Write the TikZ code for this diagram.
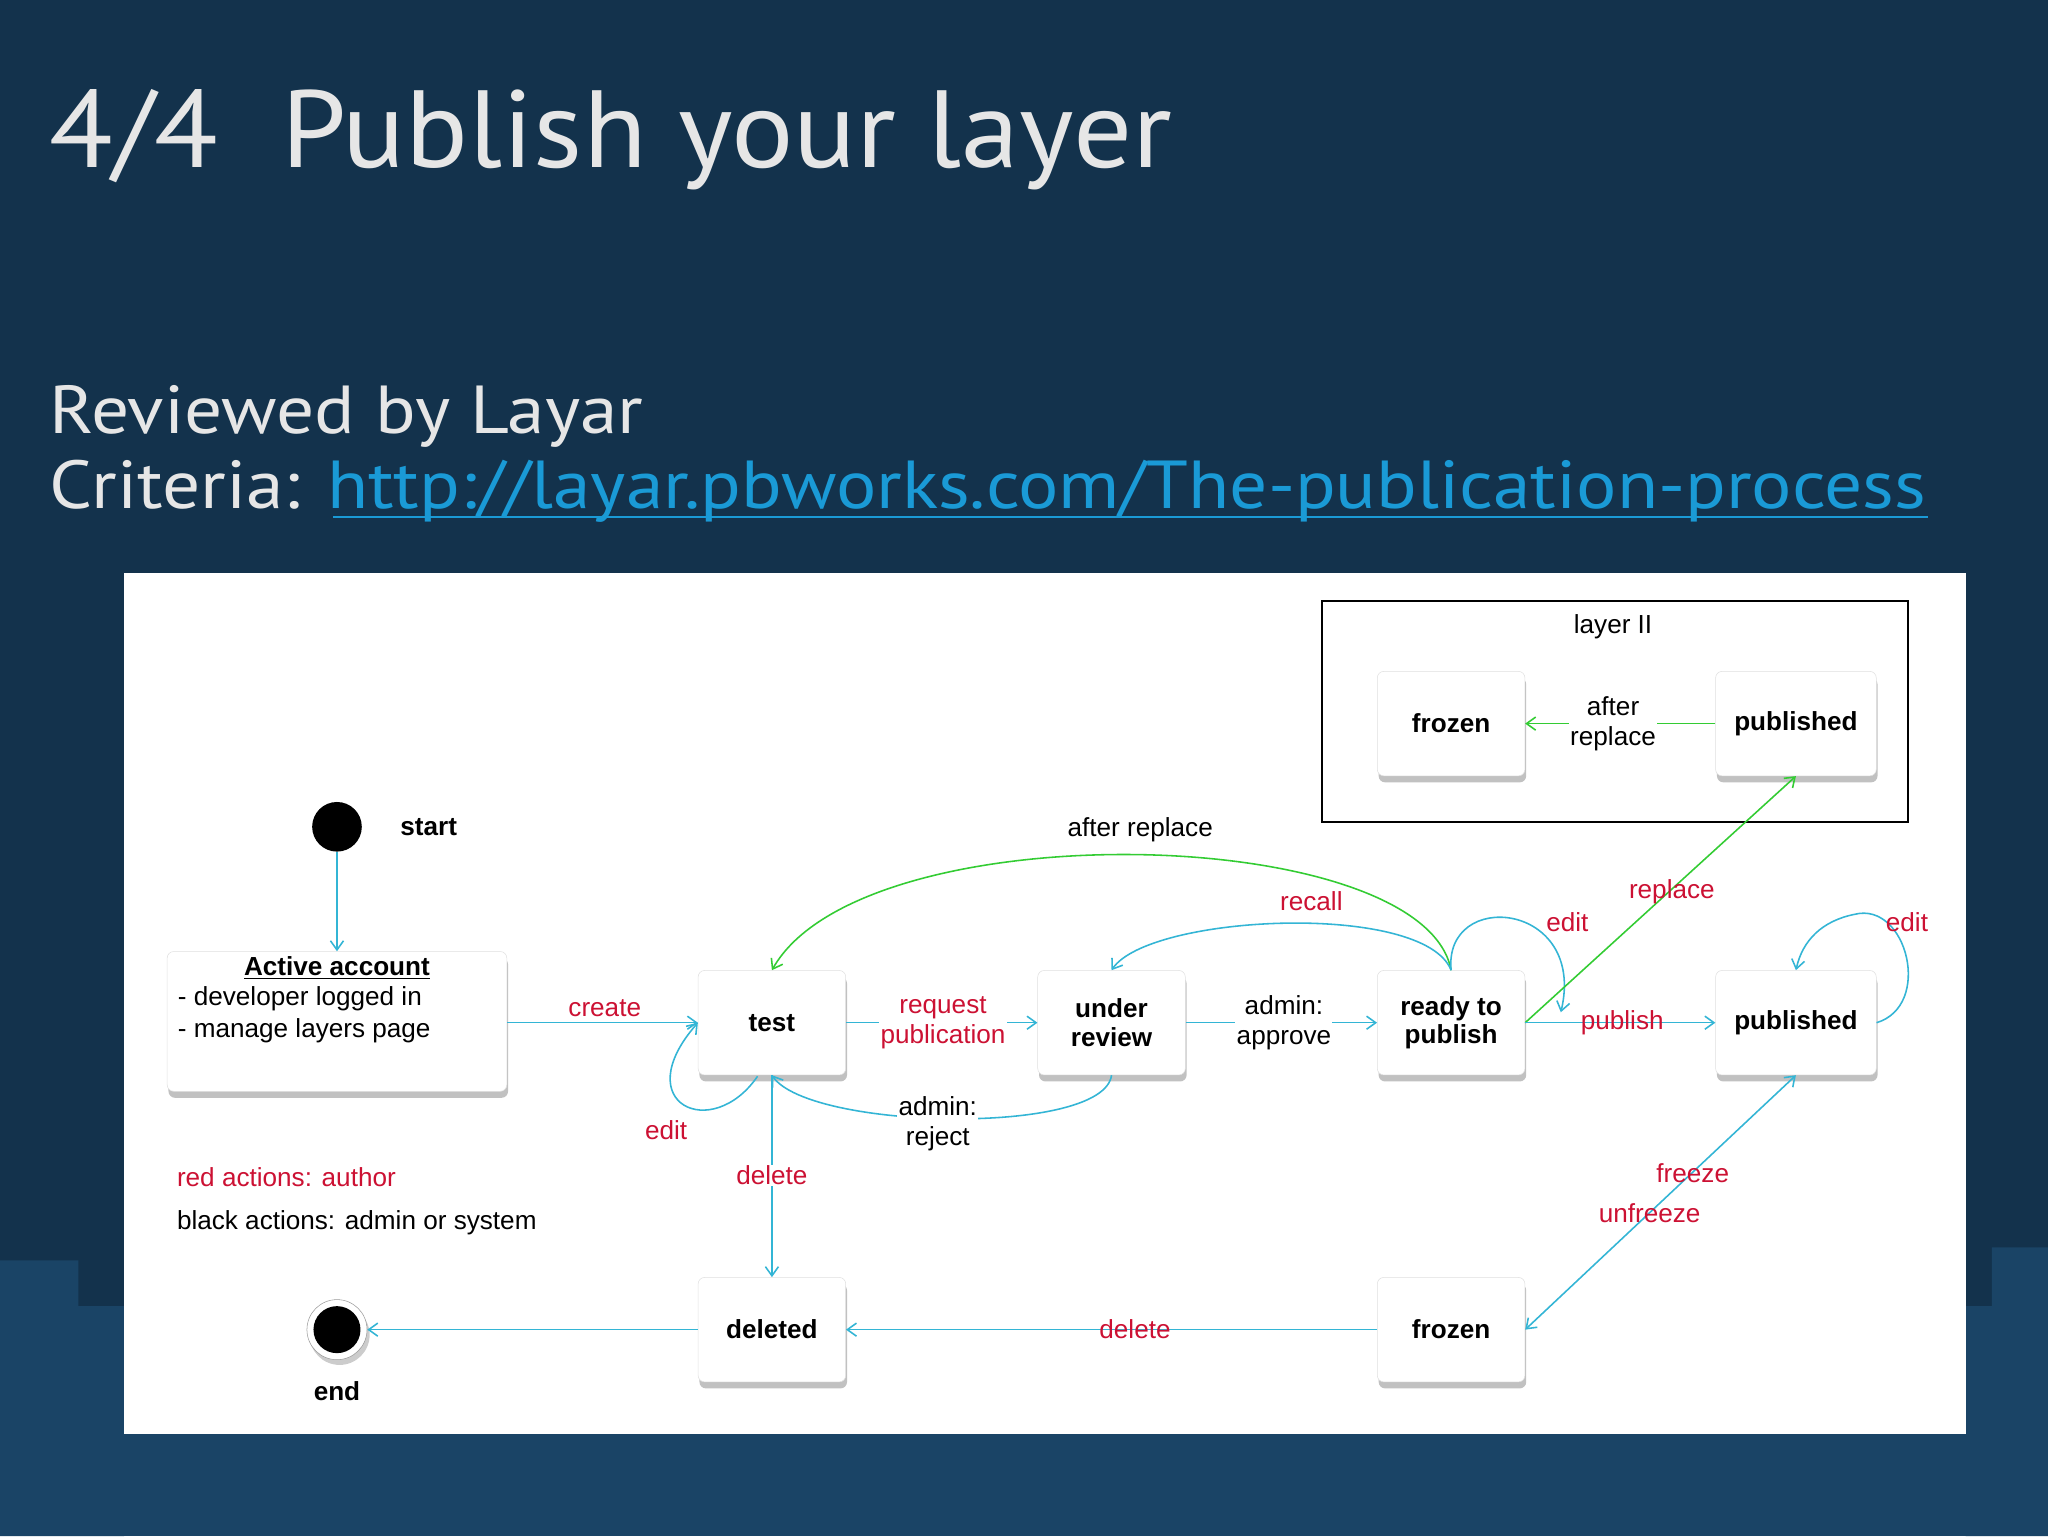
\documentclass[tikz,border=0pt]{standalone}
\usepackage{fontspec}
\setmainfont{Liberation Sans}
\newfontfamily\slidefont{PT Sans}
\usetikzlibrary{shadows,arrows.meta}
\definecolor{bg}{HTML}{13324C}
\definecolor{bgb}{HTML}{1A4466}
\definecolor{cy}{HTML}{33B5D5}
\definecolor{gr}{HTML}{33CC33}
\definecolor{rd}{HTML}{CC1133}
\definecolor{lk}{HTML}{1A9AD6}
\definecolor{tx}{HTML}{E6E6E6}
\begin{document}
\begin{tikzpicture}[x=1pt,y=-1pt,
  st/.style={draw=black!12,fill=white,rounded corners=5pt,minimum width=113pt,minimum height=80pt,align=center,font=\fontsize{20}{22}\selectfont\bfseries,
    drop shadow={shadow xshift=1pt,shadow yshift=-5pt,opacity=0.4,fill=black!60}},
  ca/.style={draw=cy,line width=1.2pt,-{Straight Barb[length=7pt,width=10pt]}},
  ga/.style={draw=gr,line width=1.2pt,-{Straight Barb[length=7pt,width=10pt]}},
  rl/.style={text=rd,font=\fontsize{20}{23}\selectfont,align=center},
  bl/.style={text=black,font=\fontsize{20}{23}\selectfont,align=center}]
\useasboundingbox (0,0) rectangle (1568,1176);
\fill[bg] (0,0) rectangle (1568,1176);
\fill[bgb] (0,1000) -- (0,965) -- (60,965) -- (60,1000) -- (95,1000) -- (95,1176) -- (0,1176) -- cycle;
\fill[bgb] (0,1098) rectangle (1568,1176);
\fill[bgb] (1505,1000) -- (1525,1000) -- (1525,955) -- (1568,955) -- (1568,1176) -- (1505,1176) -- cycle;
\node[anchor=base west,text=tx,font=\slidefont\fontsize{84}{90}\selectfont,inner sep=0] (title) at (38,128) {\scalebox{1.065}[1]{4/4\ \ Publish your layer}};
\node[anchor=base west,text=tx,font=\slidefont\fontsize{52}{56}\selectfont,inner sep=0] (sub) at (38,332) {\scalebox{1.11}[1]{Reviewed by Layar}};
\node[anchor=base west,text=tx,font=\slidefont\fontsize{52}{56}\selectfont,inner sep=0] (crit) at (38,389) {\scalebox{1.11}[1]{Criteria: \textcolor{lk}{http://layar.pbworks.com/The-publication-process}}};
\draw[lk,line width=1.5pt] (255,396) -- (1476,396);
\fill[white] (95,439) rectangle (1505,1098);
\draw[black,line width=1.5pt] (1012,460) rectangle (1461,629);
\node[bl] (l2) at (1235,480) {layer II};
\node[st] (fz2) at (1111,554) {frozen};
\node[st,minimum width=123pt] (pb2) at (1375,554) {published};
\node[fill=black,circle,minimum size=38pt,inner sep=0] (start) at (258,633) {};
\node[font=\fontsize{20}{22}\selectfont\bfseries,anchor=west] (startl) at (303,633) {start};
\node[st,minimum width=260pt,minimum height=107pt] (acc) at (258,782) {};
\node[font=\fontsize{20}{22}\selectfont\bfseries] (acct) at (258,741) {\underline{Active account}};
\node[font=\fontsize{20}{25}\selectfont,align=left,anchor=north west,inner sep=0] (accl) at (136,755) {- developer logged in\\- manage layers page};
\node[st] (test) at (591,783) {test};
\node[st] (ur) at (851,783) {under\\review};
\node[st] (rp) at (1111,783) {ready to\\publish};
\node[st,minimum width=123pt] (pb) at (1375,783) {published};
\node[st] (del) at (591,1018) {deleted};
\node[st] (fz) at (1111,1018) {frozen};
\node[fill=white,draw=black!40,circle,minimum size=46pt,inner sep=0,drop shadow={shadow xshift=2pt,shadow yshift=-4pt,opacity=0.4}] (end) at (258,1018) {};
\node[fill=black,circle,minimum size=36pt,inner sep=0] (endi) at (258,1018) {};
\node[font=\fontsize{20}{22}\selectfont\bfseries] (endl) at (258,1065) {end};
\node[rl,anchor=west] (leg1) at (132,901) {red actions: author};
\node[bl,anchor=west] (leg2) at (132,936) {black actions: admin or system};
% edges
\draw[ca] (start) -- (acc.north);
\draw[ca] (acc.east |- test) -- (test.west);
\node[rl] (lcreate) at (463,772) {create};
\coordinate (e1) at (580,824);
\draw[ca] (e1) .. controls (545,875) and (480,845) .. (test.west);
\node[rl] (ledit1) at (510,865) {edit};
\draw[ca] (test) -- (ur);
\node[rl,fill=white,inner sep=1pt] (lreq) at (722,783) {request\\publication};
\draw[ca] (ur) -- (rp);
\node[bl,fill=white,inner sep=1pt] (lapp) at (983,783) {admin:\\approve};
\draw[ca] (ur.south) .. controls (845,870) and (620,865) .. (test.south);
\node[bl,fill=white,inner sep=1pt] (lrej) at (718,860) {admin:\\reject};
\draw[ca] (test) -- (del);
\node[rl,fill=white,inner sep=1pt] (ldel1) at (591,900) {delete};
\draw[ga] (rp.north) .. controls (1090,630) and (660,620) .. (test.north);
\node[bl] (lar) at (873,635) {after replace};
\draw[ca] (rp.north) .. controls (1090,690) and (880,700) .. (ur.north);
\node[rl] (lrec) at (1004,690) {recall};
\draw[ca] (rp.north) .. controls (1105,680) and (1215,690) .. (1195,775);
\node[rl] (ledit2) at (1200,706) {edit};
\draw[ga] (rp.east) -- (pb2.south);
\node[rl] (lrepl) at (1280,683) {replace};
\draw[ca] (rp) -- (pb);
\node[rl] (lpub) at (1242,783) {publish};
\draw[ca] (pb.east) .. controls (1480,770) and (1460,690) .. (1420,700) .. controls (1395,705) and (1380,720) .. (pb.north);
\node[rl] (ledit3) at (1460,706) {edit};
\draw[ca,{Straight Barb[length=7pt,width=10pt]}-{Straight Barb[length=7pt,width=10pt]}] (fz.east) -- (pb.south);
\node[rl] (lfr) at (1296,898) {freeze};
\node[rl] (lunf) at (1263,929) {unfreeze};
\draw[ca] (fz) -- (del);
\node[rl] (ldel2) at (869,1018) {delete};
\draw[ca] (del) -- (end);
\draw[ga] (pb2) -- (fz2);
\node[bl,fill=white,inner sep=1pt] (lar2) at (1235,554) {after\\replace};
\end{tikzpicture}
\end{document}
